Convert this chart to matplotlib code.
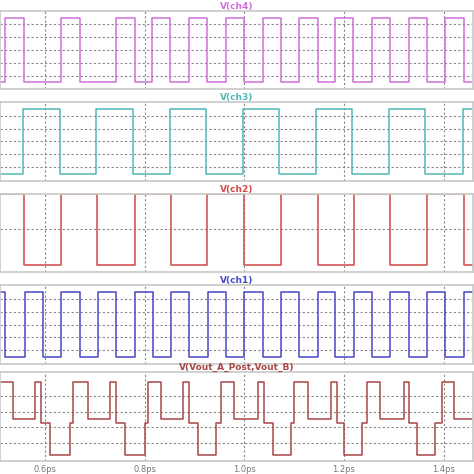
import matplotlib
matplotlib.use("Agg")
import matplotlib.pyplot as plt
import numpy as np

T0, T1 = 0.510, 1.458

ch4_edges = [0.520, 0.559, 0.632, 0.670, 0.742, 0.780, 0.815, 0.852, 0.890, 0.925, 0.963, 1.000,
             1.037, 1.073, 1.110, 1.147, 1.183, 1.219, 1.257, 1.293, 1.330, 1.367, 1.403, 1.440]
ch4_start = 0
ch3_edges = [0.557, 0.630, 0.703, 0.777, 0.851, 0.923, 0.997, 1.070, 1.143, 1.217, 1.290, 1.363, 1.439]
ch3_start = 0
ch2_edges = [0.559, 0.632, 0.705, 0.780, 0.853, 0.925, 1.000, 1.073, 1.147, 1.220, 1.293, 1.367, 1.440]
ch2_start = 1
ch1_edges = [0.520, 0.560, 0.597, 0.633, 0.670, 0.707, 0.743, 0.780, 0.817, 0.853, 0.890, 0.927,
             0.963, 1.000, 1.037, 1.073, 1.110, 1.147, 1.183, 1.220, 1.257, 1.293, 1.330, 1.367,
             1.403, 1.440]
ch1_start = 1

# differential output: segment start times and levels
vout_t = [0.510, 0.537, 0.580, 0.593, 0.610, 0.650, 0.657, 0.687, 0.730, 0.743, 0.760, 0.800,
          0.807, 0.833, 0.877, 0.890, 0.907, 0.943, 0.953, 0.980, 1.027, 1.040, 1.057, 1.093,
          1.100, 1.127, 1.173, 1.187, 1.200, 1.237, 1.247, 1.273, 1.320, 1.330, 1.347, 1.383,
          1.397, 1.420]
vout_v = [1.0, 0.0, 1.0, -0.13, -1.0, -0.13, 1.0, 0.0, 1.0, -0.13, -1.0, -0.13,
          1.0, 0.0, 1.0, -0.13, -1.0, -0.13, 1.0, 0.0, 1.0, -0.13, -1.0, -0.13,
          1.0, 0.0, 1.0, -0.13, -1.0, -0.13, 1.0, 0.0, 1.0, -0.13, -1.0, -0.13,
          1.0, 0.0]

xticks = [0.6, 0.8, 1.0, 1.2, 1.4]
xticklabels = ["0.6ps", "0.8ps", "1.0ps", "1.2ps", "1.4ps"]

def square(edges, start):
    t = [T0]; v = [start]; cur = start
    for e in edges:
        t += [e, e]; v += [cur, 1 - cur]; cur = 1 - cur
    t.append(T1); v.append(cur)
    return t, v

fig = plt.figure(figsize=(4.74, 4.74), dpi=100)
H = 474.0
def ax_at(top, bot):
    return fig.add_axes([0.0, 1 - bot / H, 0.997, (bot - top) / H])

panels = [
    ("V(ch4)", "#d070d8", square(ch4_edges, ch4_start), (11, 89), (-0.11, 1.11), [0.1, 0.3, 0.5, 0.7, 0.9]),
    ("V(ch3)", "#4fb8b8", square(ch3_edges, ch3_start), (102, 181), (-0.11, 1.11), [0.1, 0.3, 0.5, 0.7, 0.9]),
    ("V(ch2)", "#d04848", square(ch2_edges, ch2_start), (194, 272), (-0.1, 1.0), [0.5]),
    ("V(ch1)", "#4848c8", square(ch1_edges, ch1_start), (285, 364), (-0.11, 1.11), [0.1, 0.3, 0.5, 0.7, 0.9]),
    ("V(Vout_A_Post,Vout_B)", "#a84848", None, (372, 461), (-1.16, 1.27), [0.62, 0.19, -0.24, -0.68]),
]

for i, (title, col, data, (top, bot), yl, grids) in enumerate(panels):
    ax = ax_at(top, bot)
    if data is None:
        t = list(vout_t) + [T1]
        v = list(vout_v) + [vout_v[-1]]
        ax.step(t, v, where="post", color=col, lw=1.1)
    else:
        ax.plot(data[0], data[1], color=col, lw=1.1)
    ax.set_xlim(T0, T1)
    ax.set_ylim(*yl)
    for g in grids:
        ax.axhline(g, color="#888888", lw=0.8, ls=(0, (2, 2)), zorder=0)
    for x in xticks:
        ax.axvline(x, color="#888888", lw=0.8, ls=(0, (2, 2)), zorder=0)
    ax.set_yticks([])
    for s in ax.spines.values():
        s.set_color("#c8c8c8"); s.set_linewidth(1.2)
    ax.set_title(title, color=col, fontsize=6.5, fontweight="bold", pad=1.5)
    if i == 4:
        ax.set_xticks(xticks)
        ax.set_xticklabels(xticklabels, fontsize=6, color="#777777")
        ax.tick_params(axis="x", length=0, pad=3)
    else:
        ax.set_xticks([])

fig.savefig("out.png", dpi=100)
